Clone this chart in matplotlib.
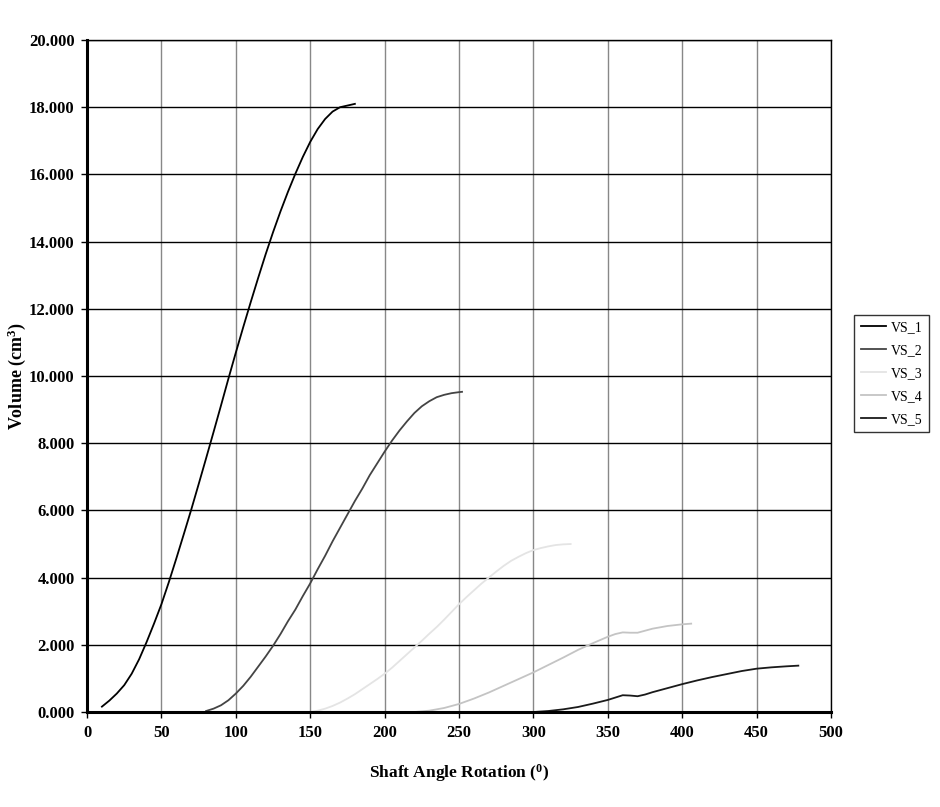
import matplotlib.pyplot as plt
from matplotlib.ticker import FuncFormatter

plt.rcParams['font.family'] = ['Liberation Serif', 'DejaVu Serif']
plt.rcParams['mathtext.fontset'] = 'custom'
plt.rcParams['mathtext.rm'] = 'Liberation Serif:bold'
plt.rcParams['mathtext.it'] = 'Liberation Serif:bold'
plt.rcParams['mathtext.bf'] = 'Liberation Serif:bold'

# chart data
vs1_x = [10, 15, 20, 25, 30, 35, 40, 45, 50, 55, 60, 65, 70, 75, 80, 85, 90, 95, 100, 105,
         110, 115, 120, 125, 130, 135, 140, 145, 150, 155, 160, 165, 170, 175, 180]
vs1_y = [0.16, 0.34, 0.55, 0.8, 1.14, 1.57, 2.08, 2.63, 3.21, 3.87, 4.57, 5.29, 6.02, 6.78, 7.55,
         8.33, 9.12, 9.92, 10.7, 11.46, 12.2, 12.92, 13.62, 14.28, 14.9, 15.48, 16.02, 16.52,
         16.97, 17.35, 17.65, 17.87, 18.0, 18.05, 18.1]

vs2_x = [80, 85, 90, 95, 100, 105, 110, 115, 120, 125, 130, 135, 140, 145, 150, 155, 160, 165,
         170, 175, 180, 185, 190, 195, 200, 205, 210, 215, 220, 225, 230, 235, 240, 245, 250, 252]
vs2_y = [0.03, 0.1, 0.2, 0.35, 0.55, 0.78, 1.05, 1.35, 1.65, 1.97, 2.32, 2.7, 3.05, 3.45, 3.83,
         4.25, 4.65, 5.08, 5.48, 5.88, 6.28, 6.65, 7.05, 7.4, 7.75, 8.08, 8.38, 8.65, 8.9, 9.1,
         9.25, 9.37, 9.44, 9.49, 9.52, 9.53]

vs3_x = [150, 155, 160, 165, 170, 175, 180, 185, 190, 195, 200, 205, 210, 215, 220, 225, 230,
         235, 240, 245, 250, 255, 260, 265, 270, 275, 280, 285, 290, 295, 300, 305, 310, 315,
         320, 325]
vs3_y = [0.0, 0.04, 0.1, 0.18, 0.28, 0.4, 0.53, 0.68, 0.83, 0.98, 1.14, 1.32, 1.52, 1.72, 1.92,
         2.12, 2.33, 2.53, 2.75, 2.98, 3.21, 3.42, 3.62, 3.82, 4.0, 4.18, 4.35, 4.5, 4.62, 4.73,
         4.82, 4.88, 4.93, 4.97, 4.99, 5.0]

vs4_x = [220, 230, 240, 250, 260, 270, 280, 290, 300, 310, 320, 330, 340, 350, 355, 360, 365,
         370, 375, 380, 390, 400, 406]
vs4_y = [0.0, 0.04, 0.12, 0.24, 0.4, 0.58, 0.78, 0.98, 1.18, 1.4, 1.62, 1.85, 2.05, 2.24, 2.32,
         2.37, 2.36, 2.36, 2.42, 2.48, 2.56, 2.61, 2.63]

vs5_x = [300, 310, 320, 330, 340, 350, 355, 360, 365, 370, 375, 380, 390, 400, 410, 420, 430,
         440, 450, 460, 470, 478]
vs5_y = [0.0, 0.03, 0.08, 0.15, 0.25, 0.36, 0.43, 0.5, 0.49, 0.47, 0.52, 0.59, 0.71, 0.83, 0.94,
         1.04, 1.13, 1.22, 1.29, 1.33, 1.36, 1.38]

fig = plt.figure(figsize=(9.4, 8.07), dpi=100)
ax = fig.add_axes([0.0926, 0.1177, 0.7915, 0.8327])

ax.plot(vs1_x, vs1_y, color='black', lw=1.3, label='VS_1')
ax.plot(vs2_x, vs2_y, color='#444444', lw=1.3, label='VS_2')
ax.plot(vs3_x, vs3_y, color='#e4e4e4', lw=1.3, label='VS_3')
ax.plot(vs4_x, vs4_y, color='#c4c4c4', lw=1.3, label='VS_4')
ax.plot(vs5_x, vs5_y, color='#1a1a1a', lw=1.3, label='VS_5')

ax.set_xlim(0, 500)
ax.set_ylim(0, 20)
ax.set_xticks(range(0, 501, 50))
ax.set_yticks(range(0, 21, 2))
ax.yaxis.set_major_formatter(FuncFormatter(lambda v, p: f'{v:.3f}'))
ax.grid(axis='y', color='black', lw=1.0)
ax.grid(axis='x', color='#888888', lw=1.0)
ax.set_axisbelow(True)

ax.spines['left'].set_linewidth(2.2)
ax.spines['bottom'].set_linewidth(2.2)
ax.spines['top'].set_linewidth(1.0)
ax.spines['right'].set_linewidth(1.0)
ax.tick_params(axis='both', direction='out', length=4, width=1, labelsize=12, pad=5)
for lab in ax.get_xticklabels() + ax.get_yticklabels():
    lab.set_fontweight('bold')

ax.set_xlabel(r'Shaft Angle Rotation ($^0$)', fontsize=12.5, fontweight='bold')
ax.xaxis.set_label_coords(0.5, -0.074)
ax.set_ylabel(r'Volume (cm$^3$)', fontsize=13, fontweight='bold')
ax.yaxis.set_label_coords(-0.079, 0.5)

leg = fig.legend(loc='upper left', bbox_to_anchor=(0.909, 0.61), borderaxespad=0,
                 fontsize=10, frameon=True, fancybox=False, edgecolor='black',
                 handlelength=1.8, handletextpad=0.4, labelspacing=0.72, borderpad=0.45)
leg.get_frame().set_linewidth(1.0)

plt.savefig('out.png', dpi=100)
